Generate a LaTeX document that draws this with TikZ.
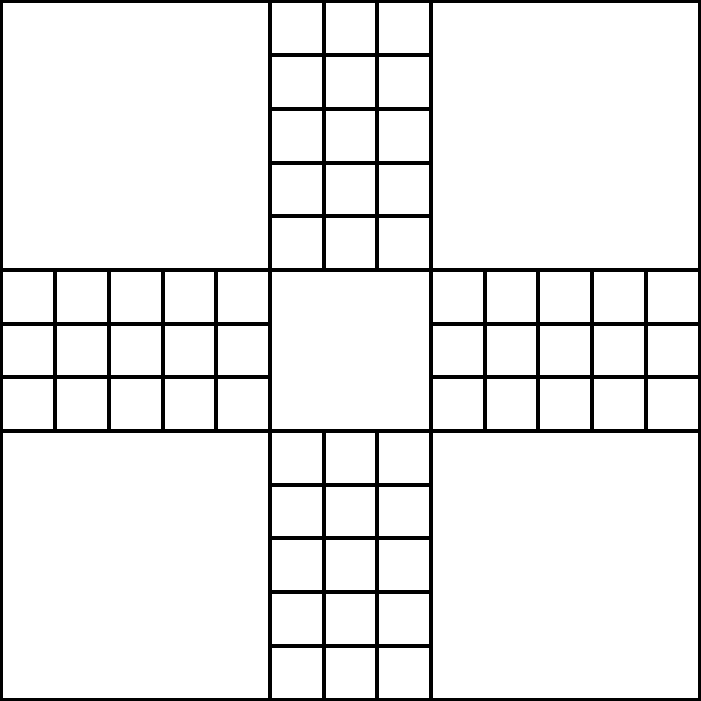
\documentclass[tikz,border=0pt]{standalone}
\usepackage{tikz}

\begin{document}
\begin{tikzpicture}[line width=2pt]

% 
\useasboundingbox (-0.03,-0.03) rectangle (13.03,13.03);
\draw (0,0) rectangle (13,13);

% 
\draw (5,0) -- (5,13);
\draw (8,0) -- (8,13);
\draw (0,5) -- (13,5);
\draw (0,8) -- (13,8);

% 
\foreach \k in {1,...,4} {
  \draw (5,\k) -- (8,\k);
  \draw (5,8+\k) -- (8,8+\k);
  \draw (\k,5) -- (\k,8);
  \draw (8+\k,5) -- (8+\k,8);
}
\foreach \k in {6,7} {
  \draw (\k,0) -- (\k,5);
  \draw (\k,8) -- (\k,13);
  \draw (0,\k) -- (5,\k);
  \draw (8,\k) -- (13,\k);
}

\end{tikzpicture}
\end{document}
